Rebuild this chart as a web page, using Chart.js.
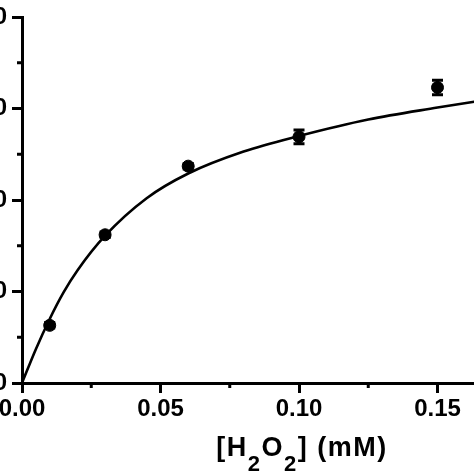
<!DOCTYPE html>
<html>
<head>
<meta charset="utf-8">
<script src="https://cdn.jsdelivr.net/npm/chart.js@4.4.0/dist/chart.umd.min.js"></script>
<style>
  html, body { margin: 0; padding: 0; background: #fff; overflow: hidden; width: 474px; height: 474px; }
  #wrap { position: absolute; left: -40px; top: 0; width: 660px; height: 474px; }
</style>
</head>
<body>
<div id="wrap"><canvas id="c" width="660" height="474"></canvas></div>
<script>
// ---- data ----
const xValues = [0.01, 0.03, 0.06, 0.10, 0.15];
const yValues = [6.3, 16.2, 23.7, 26.9, 32.3];
const yErrors = [0.3, 0.3, 0.3, 0.75, 0.8];

// fitted curve, points
const curveX = [0, 0.005, 0.01, 0.015, 0.02, 0.03, 0.045, 0.06, 0.08, 0.10, 0.125, 0.15, 0.175];
const curveY = [0, 3.7, 7.0, 9.9, 12.3, 16.1, 20.2, 22.9, 25.3, 27.0, 28.8, 30.1, 31.3];

const xTicks = [0, 0.05, 0.10, 0.15, 0.20];
const xMinorTicks = [0.025, 0.075, 0.125, 0.175];
const xTickLabels = ['0.00', '0.05', '0.10', '0.15', '0.20'];
const yTicks = [0, 10, 20, 30, 40];
const yMinorTicks = [5, 15, 25, 35];
const yTickLabels = ['0', '10', '20', '30', '40'];
const xTitleParts = [['[H', false], ['2', true], ['O', false], ['2', true], ['] (mM)', false]];

const FONT = "'Liberation Sans', Arial, sans-serif";

const minorTicks = {
  id: 'minorTicks',
  afterDraw(chart) {
    const ctx = chart.ctx, xs = chart.scales.x, ys = chart.scales.y, a = chart.chartArea;
    ctx.save();
    ctx.strokeStyle = '#000';
    ctx.lineWidth = 3;
    ctx.beginPath();
    xMinorTicks.forEach(v => {
      const px = xs.getPixelForValue(v);
      ctx.moveTo(px, a.bottom); ctx.lineTo(px, a.bottom + 5);
    });
    yMinorTicks.forEach(v => {
      const py = ys.getPixelForValue(v);
      ctx.moveTo(a.left - 5, py); ctx.lineTo(a.left, py);
    });
    ctx.stroke();
    // axis title with subscripts
    const mainFont = 'bold 27px ' + FONT, subFont = 'bold 22px ' + FONT;
    try { ctx.letterSpacing = '1.5px'; } catch (e) {}
    let total = 0;
    xTitleParts.forEach(([t, sub]) => { ctx.font = sub ? subFont : mainFont; total += ctx.measureText(t).width; });
    const cx = xs.getPixelForValue((xs.min + xs.max) / 2);
    let x = cx - total / 2 + 3;
    const base = 456;
    ctx.fillStyle = '#000';
    ctx.textBaseline = 'alphabetic';
    ctx.textAlign = 'left';
    xTitleParts.forEach(([t, sub]) => {
      ctx.font = sub ? subFont : mainFont;
      ctx.fillText(t, x, sub ? base + 15 : base);
      x += ctx.measureText(t).width;
    });
    ctx.restore();
  }
};

const errorBars = {
  id: 'errorBars',
  afterDatasetsDraw(chart) {
    const ctx = chart.ctx, ys = chart.scales.y;
    const meta = chart.getDatasetMeta(1);
    ctx.save();
    ctx.strokeStyle = '#000';
    ctx.lineWidth = 3;
    meta.data.forEach((pt, i) => {
      const top = ys.getPixelForValue(yValues[i] + yErrors[i]);
      const bot = ys.getPixelForValue(yValues[i] - yErrors[i]);
      ctx.beginPath();
      ctx.moveTo(pt.x, top); ctx.lineTo(pt.x, bot);
      ctx.moveTo(pt.x - 5.5, top); ctx.lineTo(pt.x + 5.5, top);
      ctx.moveTo(pt.x - 5.5, bot); ctx.lineTo(pt.x + 5.5, bot);
      ctx.stroke();
    });
    ctx.restore();
  }
};

new Chart(document.getElementById('c'), {
  type: 'scatter',
  data: {
    datasets: [
      {
        type: 'line',
        data: curveX.map((x, i) => ({ x, y: curveY[i] })),
        borderColor: '#000',
        borderWidth: 2.6,
        pointRadius: 0,
        cubicInterpolationMode: 'monotone',
        fill: false
      },
      {
        data: xValues.map((x, i) => ({ x, y: yValues[i] })),
        backgroundColor: '#000',
        borderColor: '#000',
        pointRadius: 6,
        pointHoverRadius: 6
      }
    ]
  },
  options: {
    responsive: false,
    animation: false,
    events: [],
    layout: { padding: { left: 0, top: 14, right: 44, bottom: 0 } },
    plugins: { legend: { display: false }, tooltip: { enabled: false } },
    scales: {
      x: {
        type: 'linear',
        min: 0, max: 0.2,
        afterBuildTicks: s => { s.ticks = xTicks.map(v => ({ value: v })); },
        afterFit: s => { s.height = 91; },
        ticks: {
          color: '#000',
          padding: 2,
          font: { family: FONT, size: 24, weight: 'bold' },
          maxRotation: 0,
          callback: (v, i) => xTickLabels[i]
        },
        grid: { drawOnChartArea: false, drawTicks: true, tickLength: 10, tickWidth: 3, tickColor: '#000' },
        border: { display: true, color: '#000', width: 3 },
        title: { display: false }
      },
      y: {
        type: 'linear',
        min: 0, max: 40,
        afterBuildTicks: s => { s.ticks = yTicks.map(v => ({ value: v })); },
        afterFit: s => { s.width = 62; },
        ticks: {
          color: '#000',
          padding: 5,
          font: { family: FONT, size: 24, weight: 'bold', lineHeight: 1 },
          callback: (v, i) => yTickLabels[i]
        },
        grid: { drawOnChartArea: false, drawTicks: true, tickLength: 10, tickWidth: 3, tickColor: '#000' },
        border: { display: true, color: '#000', width: 3 }
      }
    }
  },
  plugins: [minorTicks, errorBars]
});
</script>
</body>
</html>
